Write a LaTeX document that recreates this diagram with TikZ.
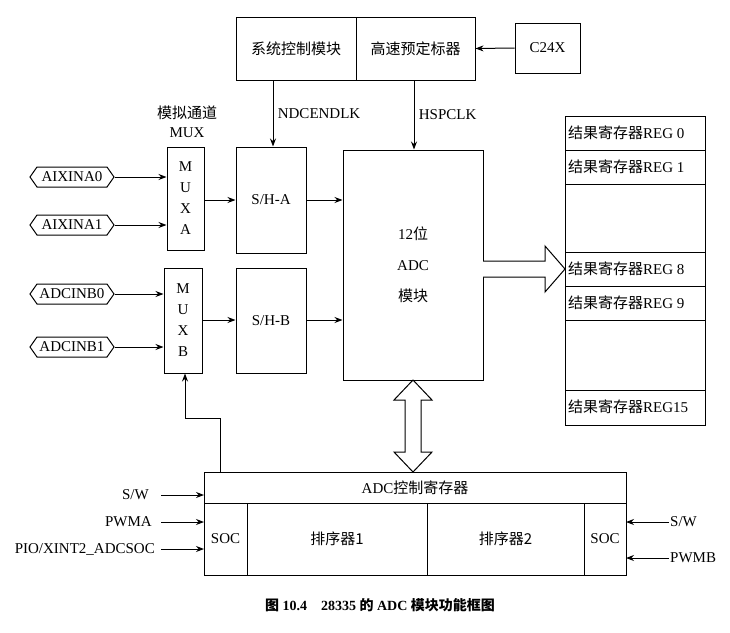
\documentclass[tikz,border=0pt]{standalone}
\usepackage{fontspec}
\setmainfont{Liberation Serif}
\newfontfamily\cjk{Noto Sans CJK SC}
\usetikzlibrary{shapes.symbols,arrows.meta}
\begin{document}
\begin{tikzpicture}[x=1pt,y=-1pt,font=\fontsize{15}{17}\selectfont,
  bx/.style={draw,line width=1pt,inner sep=0},
  ar/.style={-{Stealth[length=8pt,width=6pt]},line width=1pt},
  sig/.style={draw,line width=1pt,signal,signal to=west and east,inner sep=1pt,minimum width=84pt,minimum height=20pt,signal pointer angle=110,font=\fontsize{15}{16}\selectfont}]
\useasboundingbox (0,0) rectangle (730,632);
% top
\node[bx,minimum width=120pt,minimum height=63pt] (sys) at (296,48.5) {\cjk 系统控制模块};
\node[bx,minimum width=119pt,minimum height=63pt] (hs) at (415.5,48.5) {\cjk 高速预定标器};
\node[bx,minimum width=65pt,minimum height=50pt] (c24) at (547.5,48) {C24X};
\draw[ar] (c24.west) -- (hs.east);
% mux
\node[align=center,font=\fontsize{15}{19}\selectfont] (muxl) at (187,122) {\cjk 模拟通道\\MUX};
\node[bx,minimum width=37pt,minimum height=103pt,align=center,font=\fontsize{15}{21}\selectfont] (muxa) at (185.5,198.5) {M\\U\\X\\A};
\node[bx,minimum width=38pt,minimum height=105pt,align=center,font=\fontsize{15}{21}\selectfont] (muxb) at (183,320.5) {M\\U\\X\\B};
\node[bx,minimum width=70pt,minimum height=106pt] (sha) at (271,200) {S/H-A};
\node[bx,minimum width=70pt,minimum height=105pt] (shb) at (271,320.5) {S/H-B};
\node[bx,minimum width=140pt,minimum height=230pt,align=center,font=\fontsize{15}{31}\selectfont] (adc) at (413,265) {12{\cjk 位}\\ADC\\{\cjk 模块}};
% clocks
\coordinate (nd) at (273,80);
\coordinate (hp) at (414,80);
\draw[ar] (nd) -- (nd|-sha.north) node[pos=0.5,right,xshift=1pt] {NDCENDLK};
\draw[ar] (hp) -- (hp|-adc.north) node[pos=0.5,right,xshift=1pt] {HSPCLK};
% inputs
\node[sig] (a0) at (72,177) {AIXINA0};
\node[sig] (a1) at (72,225) {AIXINA1};
\node[sig] (b0) at (72,294) {ADCINB0};
\node[sig] (b1) at (72,347) {ADCINB1};
\draw[ar] (a0.east) -- (a0.east-|muxa.west);
\draw[ar] (a1.east) -- (a1.east-|muxa.west);
\draw[ar] (b0.east) -- (b0.east-|muxb.west);
\draw[ar] (b1.east) -- (b1.east-|muxb.west);
\draw[ar] (204,200) -- (sha.west|-0,200);
\draw[ar] (sha.east|-0,200) -- (adc.west|-0,200);
\draw[ar] (202,320) -- (shb.west|-0,320);
\draw[ar] (shb.east|-0,320) -- (adc.west|-0,320);
% registers
\begin{scope}[line width=1pt]
\draw (565,116) rectangle (705,425);
\foreach \y in {150,184,252,286,320,390} \draw (565,\y) -- (705,\y);
\end{scope}
\node[anchor=west,inner sep=0] (r0) at (568,133) {{\cjk 结果寄存器}REG 0};
\node[anchor=west,inner sep=0] (r1) at (568,167) {{\cjk 结果寄存器}REG 1};
\node[anchor=west,inner sep=0] (r8) at (568,269) {{\cjk 结果寄存器}REG 8};
\node[anchor=west,inner sep=0] (r9) at (568,303) {{\cjk 结果寄存器}REG 9};
\node[anchor=west,inner sep=0] (r15) at (568,407) {{\cjk 结果寄存器}REG15};
\draw[line width=1pt,fill=white] (483,261) -- (545,261) -- (545,246) -- (565,269) -- (545,292) -- (545,277) -- (483,277);
% control
\node[bx,minimum width=422pt,minimum height=31pt] (ctl) at (415,487.5) {ADC{\cjk 控制寄存器}};
\node[bx,minimum width=43pt,minimum height=72pt] (soc1) at (225.5,539) {SOC};
\node[bx,minimum width=180pt,minimum height=72pt] (s1) at (337,539) {\cjk 排序器1};
\node[bx,minimum width=157pt,minimum height=72pt] (s2) at (505.5,539) {\cjk 排序器2};
\node[bx,minimum width=42pt,minimum height=72pt] (soc2) at (605,539) {SOC};
\draw[line width=1pt,fill=white] (413,380) -- (432,400) -- (421,400) -- (421,452) -- (432,452) -- (413,472) -- (394,452) -- (405,452) -- (405,400) -- (394,400) -- cycle;
\draw[ar] (220,472) -- (220,418) -- (185,418) -- (muxb.south-|185,0);
% side inputs
\node[anchor=east,inner sep=1pt] (sw1) at (150,495) {S/W};
\node[anchor=east,inner sep=1pt] (pwma) at (153,522) {PWMA};
\node[anchor=east,inner sep=0pt] (gp) at (155,549) {PIO/XINT2\_ADCSOC};
\draw[ar] (161,495) -- (204,495);
\draw[ar] (161,522) -- (204,522);
\draw[ar] (161,549) -- (204,549);
\node[anchor=west,inner sep=1pt] (sw2) at (669,522) {S/W};
\node[anchor=west,inner sep=1pt] (pwmb) at (669,558) {PWMB};
\draw[ar] (669,522) -- (626,522);
\draw[ar] (669,558) -- (626,558);
\node[font=\bfseries\fontsize{14}{16}\selectfont] (cap) at (380,605) {{\cjk\bfseries 图} 10.4\quad 28335 {\cjk\bfseries 的} ADC {\cjk\bfseries 模块功能框图}};
\end{tikzpicture}
\end{document}
